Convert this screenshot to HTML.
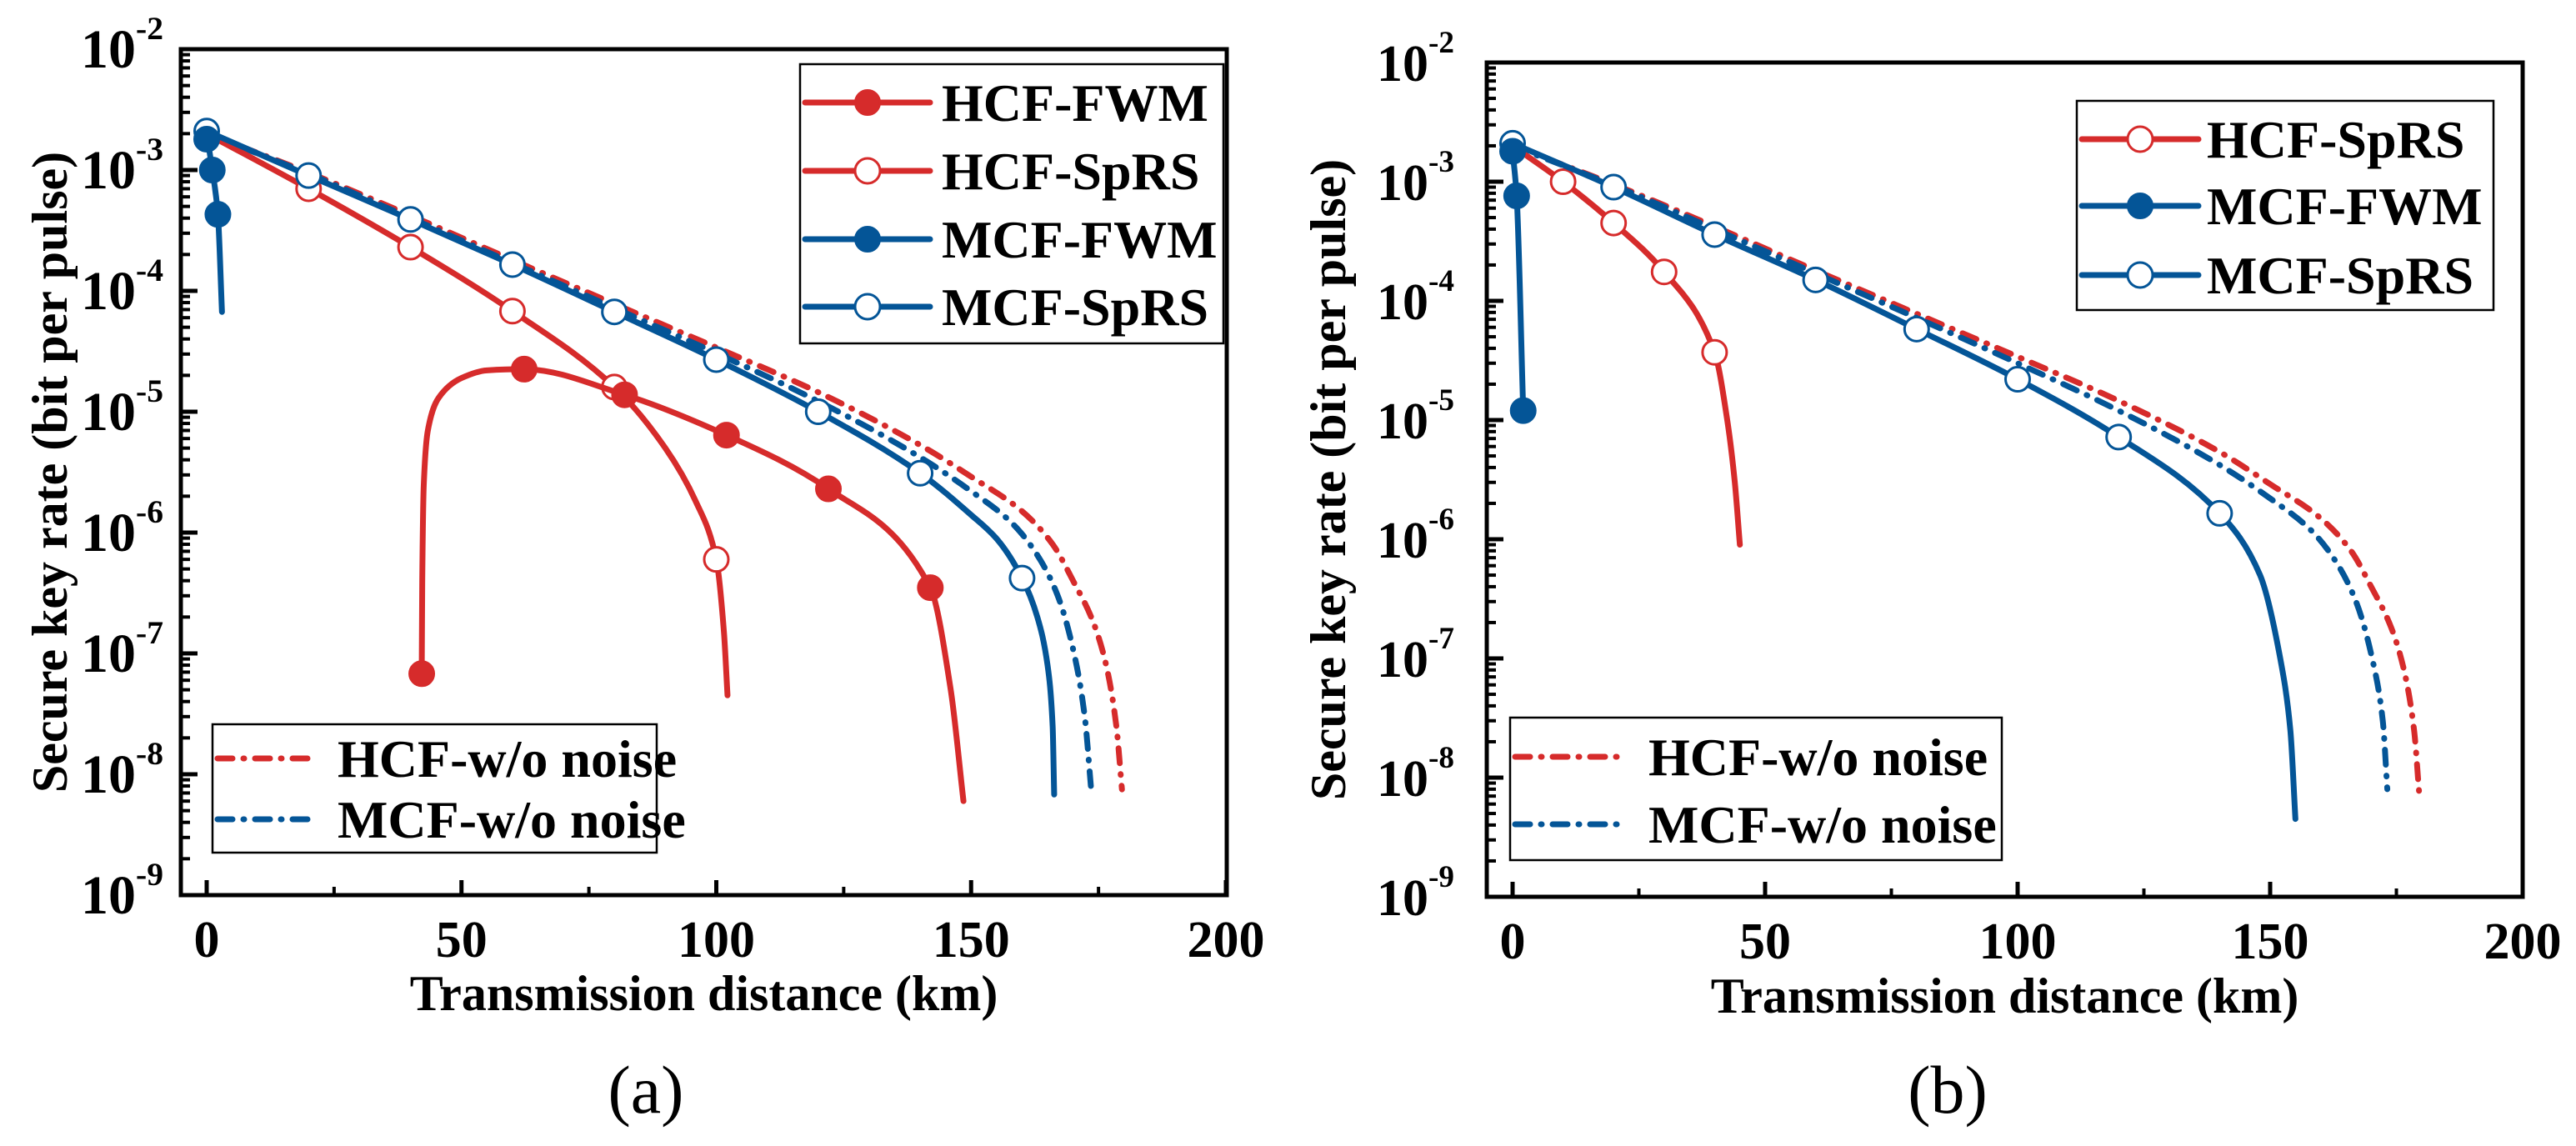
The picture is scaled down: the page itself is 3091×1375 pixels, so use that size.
<!DOCTYPE html>
<html><head><meta charset="utf-8">
<style>
html,body{margin:0;padding:0;background:#fff;}
svg{display:block;font-family:"Liberation Serif","DejaVu Serif",serif;}
</style></head>
<body>
<svg id="fig" xmlns="http://www.w3.org/2000/svg" width="3091" height="1375" viewBox="0 0 3091 1375"></svg>
<script>
// ---------- Data: chart (a) ----------
const aHcfFwmX = [42.2,42.3,42.6,43.4,45.5,50,55,62.3,82,102,122,142,146,148.5];
const aHcfFwmY = [6.8e-8,4e-7,2.5e-6,7e-6,1.3e-5,1.9e-5,2.2e-5,2.25e-5,1.38e-5,6.4e-6,2.3e-6,3.5e-7,5e-8,6e-9];
const aHcfFwmMX = [42.2,62.3,82,102,122,142];
const aHcfFwmMY = [6.8e-8,2.25e-5,1.38e-5,6.4e-6,2.3e-6,3.5e-7];
const aHcfSprsX = [0,20,40,60,80,90,96,100,101.5,102.2];
const aHcfSprsY = [2e-3,7e-4,2.3e-4,6.8e-5,1.6e-5,5e-6,1.8e-6,6e-7,1.5e-7,4.5e-8];
const aHcfSprsMX = [20,40,60,80,100];
const aHcfSprsMY = [7e-4,2.3e-4,6.8e-5,1.6e-5,6e-7];
const aMcfFwmX = [0,1.1,2.2,3.0];
const aMcfFwmY = [2e-3,1.0e-3,4.3e-4,6.7e-5];
const aMcfFwmMX = [0,1.1,2.2];
const aMcfFwmMY = [1.8e-3,1.0e-3,4.3e-4];
const aMcfSprsX = [0,20,40,60,80,100,120,140,150,155,160,163,165,166,166.3];
const aMcfSprsY = [2.1e-3,9e-4,3.9e-4,1.65e-4,6.7e-5,2.7e-5,1e-5,3.1e-6,1.4e-6,8.9e-7,4.2e-7,2e-7,8e-8,2.5e-8,6.8e-9];
const aMcfSprsMX = [0,20,40,60,80,100,120,140,160];
const aMcfSprsMY = [2.1e-3,9e-4,3.9e-4,1.65e-4,6.7e-5,2.7e-5,1e-5,3.1e-6,4.2e-7];
const aHcfNoX = [0,20,40,60,80,100,120,140,150,160,166,170,174,176.5,178.5,179.6];
const aHcfNoY = [2e-3,9.5e-4,4.2e-4,1.8e-4,7.8e-5,3.4e-5,1.45e-5,5.3e-6,2.9e-6,1.5e-6,8e-7,4e-7,1.8e-7,8e-8,2.5e-8,7.5e-9];
const aMcfNoX = [0,20,40,60,80,100,120,140,150,158,163,167,170.2,172.3,173.5];
const aMcfNoY = [2e-3,9.3e-4,4e-4,1.7e-4,7.2e-5,3.05e-5,1.22e-5,4.2e-6,2.2e-6,1.2e-6,6.5e-7,3e-7,1e-7,3e-8,8e-9];
// ---------- Data: chart (b) ----------
const bHcfSprsX = [0,10,20,30,40,42.5,44,45];
const bHcfSprsY = [2e-3,1e-3,4.5e-4,1.75e-4,3.7e-5,1e-5,3e-6,9e-7];
const bHcfSprsMX = [10,20,30,40];
const bHcfSprsMY = [1e-3,4.5e-4,1.75e-4,3.7e-5];
const bMcfFwmX = [0,0.8,2.1];
const bMcfFwmY = [1.8e-3,7.6e-4,1.2e-5];
const bMcfFwmMX = [0,0.8,2.1];
const bMcfFwmMY = [1.8e-3,7.6e-4,1.2e-5];
const bMcfSprsX = [0,20,40,60,80,100,120,140,148,152,154,155];
const bMcfSprsY = [2.1e-3,9e-4,3.6e-4,1.5e-4,5.8e-5,2.2e-5,7.2e-6,1.65e-6,5e-7,1e-7,2.5e-8,4.5e-9];
const bMcfSprsMX = [0,20,40,60,80,100,120,140];
const bMcfSprsMY = [2.1e-3,9e-4,3.6e-4,1.5e-4,5.8e-5,2.2e-5,7.2e-6,1.65e-6];
const bHcfNoX = [0,20,40,60,80,100,120,140,150,160,166,170,174,176.5,178.5,179.5];
const bHcfNoY = [2e-3,9.5e-4,4.2e-4,1.8e-4,7.8e-5,3.4e-5,1.45e-5,5.4e-6,2.9e-6,1.5e-6,8e-7,4e-7,1.8e-7,8e-8,2.5e-8,7.5e-9];
const bMcfNoX = [0,20,40,60,80,100,120,140,150,158,163,167,170.2,172.3,173.2];
const bMcfNoY = [2e-3,9.3e-4,4e-4,1.7e-4,7.2e-5,3e-5,1.2e-5,4.2e-6,2.2e-6,1.2e-6,6.5e-7,3e-7,1e-7,3e-8,8e-9];
// ---------- Axis ticks ----------
const xTickValues = [0,50,100,150,200];
const xMinorValues = [25,75,125,175];
const yExponents = [-2,-3,-4,-5,-6,-7,-8,-9];

const RED = "#d62b2b", BLUE = "#045597";
const NS = "http://www.w3.org/2000/svg";
const svg = document.getElementById("fig");

function el(tag, attrs, parent){
  const e = document.createElementNS(NS, tag);
  for (const k in attrs) e.setAttribute(k, attrs[k]);
  (parent||svg).appendChild(e);
  return e;
}

function monotonePath(pts){
  const n = pts.length;
  if (n < 2) return "";
  const dx=[],dy=[],m=[];
  for (let i=0;i<n-1;i++){dx.push(pts[i+1][0]-pts[i][0]);dy.push(pts[i+1][1]-pts[i][1]);m.push(dy[i]/(dx[i]||1e-6));}
  const t=[m[0]];
  for (let i=1;i<n-1;i++){
    if (m[i-1]*m[i]<=0) t.push(0);
    else { const w1=2*dx[i]+dx[i-1], w2=dx[i]+2*dx[i-1]; t.push((w1+w2)/(w1/m[i-1]+w2/m[i])); }
  }
  t.push(m[n-2]);
  let d = "M"+pts[0][0].toFixed(2)+","+pts[0][1].toFixed(2);
  for (let i=0;i<n-1;i++){
    const h=dx[i]/3;
    d += " C"+(pts[i][0]+h).toFixed(2)+","+(pts[i][1]+t[i]*h).toFixed(2)+" "+(pts[i+1][0]-h).toFixed(2)+","+(pts[i+1][1]-t[i+1]*h).toFixed(2)+" "+pts[i+1][0].toFixed(2)+","+pts[i+1][1].toFixed(2);
  }
  return d;
}

function drawChart(c){
  const g = el("g", {});
  
  
  const xs = v => c.x0 + v*(c.x200-c.x0)/200;
  const ys = v => c.yT + (-2 - Math.log10(v))*(c.yB-c.yT)/7;
  const yE = e => c.yT + (-2 - e)*(c.yB-c.yT)/7;

  for (let e=-9;e<-2;e++){
    for (let k=2;k<=9;k++){
      const y = ys(k*Math.pow(10,e));
      const t = el("line",{x1:c.xL,x2:c.xL+11,y1:y,y2:y,stroke:"#000","stroke-width":4},g);
      
      
    }
  }
  yExponents.forEach(e=>{
    const y=yE(e);
    const t=el("line",{x1:c.xL,x2:c.xL+20,y1:y,y2:y,stroke:"#000","stroke-width":5},g);
    
    
    const tx=el("text",{x:c.labelX,y:y+22,"text-anchor":"end","font-size":c.tickFs,"font-weight":"bold"},g);
    
    
    tx.appendChild(document.createTextNode("10"));
    const sp=el("tspan",{"font-size":c.tickFs*0.6,dy:-34},tx);
    sp.textContent=String(e);
  });
  xTickValues.forEach(v=>{
    const x=xs(v);
    const t=el("line",{x1:x,x2:x,y1:c.yB,y2:c.yB-18,stroke:"#000","stroke-width":5},g);
    
    
    const tx=el("text",{x:x,y:c.yB+74,"text-anchor":"middle","font-size":62,"font-weight":"bold"},g);
    
    
    tx.textContent=String(v);
  });
  xMinorValues.forEach(v=>{
    const x=xs(v);
    const t=el("line",{x1:x,x2:x,y1:c.yB,y2:c.yB-10,stroke:"#000","stroke-width":4},g);
    
    
  });

  c.series.forEach(s=>{
    const pts = s.x.map((v,i)=>[xs(v), ys(s.y[i])]);
    const p = el("path",{d:monotonePath(pts),fill:"none",stroke:s.color,"stroke-width":7,"stroke-linecap":"round","stroke-linejoin":"round"},g);
    if (s.dash) p.setAttribute("stroke-dasharray","18 13 1 13");
    
    
    if (s.mx){
      s.mx.forEach((v,i)=>{
        const m = el("circle",{cx:xs(v),cy:ys(s.my[i]),r:s.filled?15:14.5,fill:s.filled?s.color:"#fff",stroke:s.color,"stroke-width":s.filled?2:3},g);
        
        
      });
    }
  });

  const f = el("rect",{x:c.xL,y:c.yT,width:c.xR-c.xL,height:c.yB-c.yT,fill:"none",stroke:"#000","stroke-width":5},g);
  
  

  c.legends.forEach(L=>{
    const lg = el("g",{},g);
    
    
    const b = el("rect",{x:L.x,y:L.y,width:L.w,height:L.h,fill:"#fff",stroke:"#000","stroke-width":2.5},lg);
    
    
    L.items.forEach(it=>{
      const e = el("g",{},lg);
      
      
      const ln = el("line",{x1:L.x+L.lx1,x2:L.x+L.lx2,y1:it.y,y2:it.y,stroke:it.color,"stroke-width":7,"stroke-linecap":"round"},e);
      if (it.dash) ln.setAttribute("stroke-dasharray","18 13 1 13");
      
      
      if (it.marker){
        const m = el("circle",{cx:L.x+(L.lx1+L.lx2)/2,cy:it.y,r:15,fill:it.marker==="filled"?it.color:"#fff",stroke:it.color,"stroke-width":it.marker==="filled"?2:3},e);
        
        
      }
      const t = el("text",{x:L.x+L.tx,y:it.y+22,"font-size":64,"font-weight":"bold"},e);
      
      
      t.textContent = it.label;
    });
  });

  const xt = el("text",{x:(c.xL+c.xR)/2,y:c.xTitleY,"text-anchor":"middle","font-size":60,"font-weight":"bold"},g);
  
  
  xt.textContent = "Transmission distance (km)";
  const yt = el("text",{x:0,y:0,"text-anchor":"middle","font-size":60,"font-weight":"bold",transform:"translate("+c.yTitleX+","+((c.yT+c.yB)/2)+") rotate(-90)"},g);
  
  
  yt.textContent = "Secure key rate (bit per pulse)";
  const cap = el("text",{x:c.capX,y:c.capY,"text-anchor":"middle","font-size":82},g);
  
  
  cap.textContent = c.caption;
}

drawChart({
  id:"a", xL:217, xR:1472, x0:248, x200:1471, yT:59, yB:1074, labelX:196, tickFs:66,
  xTitleY:1212, yTitleX:80, capX:775, capY:1335, caption:"(a)",
  series:[
    {name:"hcf-wo-noise",x:aHcfNoX,y:aHcfNoY,color:RED,dash:true},
    {name:"mcf-wo-noise",x:aMcfNoX,y:aMcfNoY,color:BLUE,dash:true},
    {name:"hcf-sprs",x:aHcfSprsX,y:aHcfSprsY,color:RED,mx:aHcfSprsMX,my:aHcfSprsMY},
    {name:"hcf-fwm",x:aHcfFwmX,y:aHcfFwmY,color:RED,mx:aHcfFwmMX,my:aHcfFwmMY,filled:true},
    {name:"mcf-sprs",x:aMcfSprsX,y:aMcfSprsY,color:BLUE,mx:aMcfSprsMX,my:aMcfSprsMY},
    {name:"mcf-fwm",x:aMcfFwmX,y:aMcfFwmY,color:BLUE,mx:aMcfFwmMX,my:aMcfFwmMY,filled:true}
  ],
  legends:[
    {name:"legend-markers",x:960,y:77,w:508,h:335,lx1:6,lx2:156,tx:170,items:[
      {label:"HCF-FWM",color:RED,marker:"filled",y:123},
      {label:"HCF-SpRS",color:RED,marker:"open",y:205},
      {label:"MCF-FWM",color:BLUE,marker:"filled",y:287},
      {label:"MCF-SpRS",color:BLUE,marker:"open",y:368}]},
    {name:"legend-no-noise",x:255,y:869,w:533,h:154,lx1:6,lx2:124,tx:150,items:[
      {label:"HCF-w/o noise",color:RED,dash:true,y:910},
      {label:"MCF-w/o noise",color:BLUE,dash:true,y:983}]}
  ]
});

drawChart({
  id:"b", xL:1784, xR:3027, x0:1815, x200:3027, yT:75, yB:1076, labelX:1745, tickFs:62,
  xTitleY:1215, yTitleX:1614, capX:2337, capY:1335, caption:"(b)",
  series:[
    {name:"hcf-wo-noise",x:bHcfNoX,y:bHcfNoY,color:RED,dash:true},
    {name:"mcf-wo-noise",x:bMcfNoX,y:bMcfNoY,color:BLUE,dash:true},
    {name:"hcf-sprs",x:bHcfSprsX,y:bHcfSprsY,color:RED,mx:bHcfSprsMX,my:bHcfSprsMY},
    {name:"mcf-sprs",x:bMcfSprsX,y:bMcfSprsY,color:BLUE,mx:bMcfSprsMX,my:bMcfSprsMY},
    {name:"mcf-fwm",x:bMcfFwmX,y:bMcfFwmY,color:BLUE,mx:bMcfFwmMX,my:bMcfFwmMY,filled:true}
  ],
  legends:[
    {name:"legend-markers",x:2492,y:121,w:500,h:251,lx1:6,lx2:146,tx:156,items:[
      {label:"HCF-SpRS",color:RED,marker:"open",y:167},
      {label:"MCF-FWM",color:BLUE,marker:"filled",y:247},
      {label:"MCF-SpRS",color:BLUE,marker:"open",y:330}]},
    {name:"legend-no-noise",x:1812,y:861,w:590,h:171,lx1:6,lx2:140,tx:166,items:[
      {label:"HCF-w/o noise",color:RED,dash:true,y:908},
      {label:"MCF-w/o noise",color:BLUE,dash:true,y:989}]}
  ]
});
</script>
</body></html>
